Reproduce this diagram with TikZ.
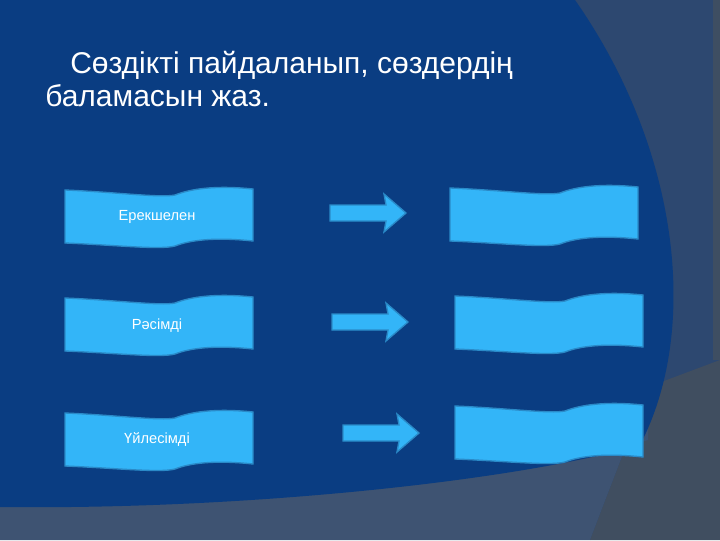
\documentclass[tikz,border=0pt]{standalone}
\usepackage{fontspec}
\setmainfont{Liberation Sans}
\usetikzlibrary{positioning}
\definecolor{slideblue}{HTML}{0A3D82}
\definecolor{outerblue}{HTML}{2D4870}
\definecolor{bandgray}{HTML}{3E5372}
\definecolor{darkgray}{HTML}{404E60}
\definecolor{ribbon}{HTML}{33B5F8}
\definecolor{ribbonedge}{HTML}{2A8AC8}

\begin{document}
\begin{tikzpicture}[x=0.75pt, y=-0.75pt,
  banner/.pic={
    \draw[fill=ribbon, draw=ribbonedge, line width=1pt]
      (0,5) .. controls (50,7) and (95,13) .. (110,10)
      .. controls (125,4) and (150,0) .. (188,4) -- (188,56)
      .. controls (150,52) and (125,55) .. (110,61)
      .. controls (95,65) and (50,60) .. (0,58) -- cycle;
  },
  arrowpic/.pic={
    \draw[fill=ribbon, draw=ribbonedge, line width=1pt]
      (0,-8) -- (56,-8) -- (54,-19) -- (76,0) -- (54,19) -- (56,8) -- (0,8) -- cycle;
  },
  wordlabel/.style={font=\fontsize{11}{13}\selectfont, text=white},
  title/.style={font=\fontsize{22.5}{26}\selectfont, text=white, anchor=base west, inner sep=0pt},
]
% background
\fill[outerblue] (0,0) rectangle (720,540);
\fill[darkgray] (720,360) -- (648,387) .. controls (625,450) and (605,500) .. (590,540) -- (720,540) -- cycle;
\fill[darkgray!90!outerblue] (713,0) rectangle (720,360);
\fill[bandgray] (0,505) .. controls (250,508) and (520,480) .. (648,440) -- (648,387) .. controls (625,450) and (605,500) .. (590,540) -- (0,540) -- cycle;
\fill[slideblue] (0,0) -- (575,0) .. controls (680,150) and (700,330) .. (640,445)
  .. controls (520,480) and (250,510) .. (0,507) -- cycle;

% title
\node[title] (line1) at (70,73) {Сөздікті пайдаланып, сөздердің};
\node[title] (line2) at (45,106) {баламасын жаз.};

% left banners
\pic at (65,185) {banner};
\pic at (65,293) {banner};
\pic at (65,408) {banner};
\node[wordlabel] (w1) at (157,217) {Ерекшелен};
\node[wordlabel] (w2) at (157,326) {Рәсімді};
\node[wordlabel] (w3) at (157,440) {Үйлесімді};

% arrows
\pic at (330,213) {arrowpic};
\pic at (332,322) {arrowpic};
\pic at (343,433) {arrowpic};

% right banners
\pic at (450,183) {banner};
\pic at (455,291) {banner};
\pic at (455,401) {banner};
\end{tikzpicture}
\end{document}
